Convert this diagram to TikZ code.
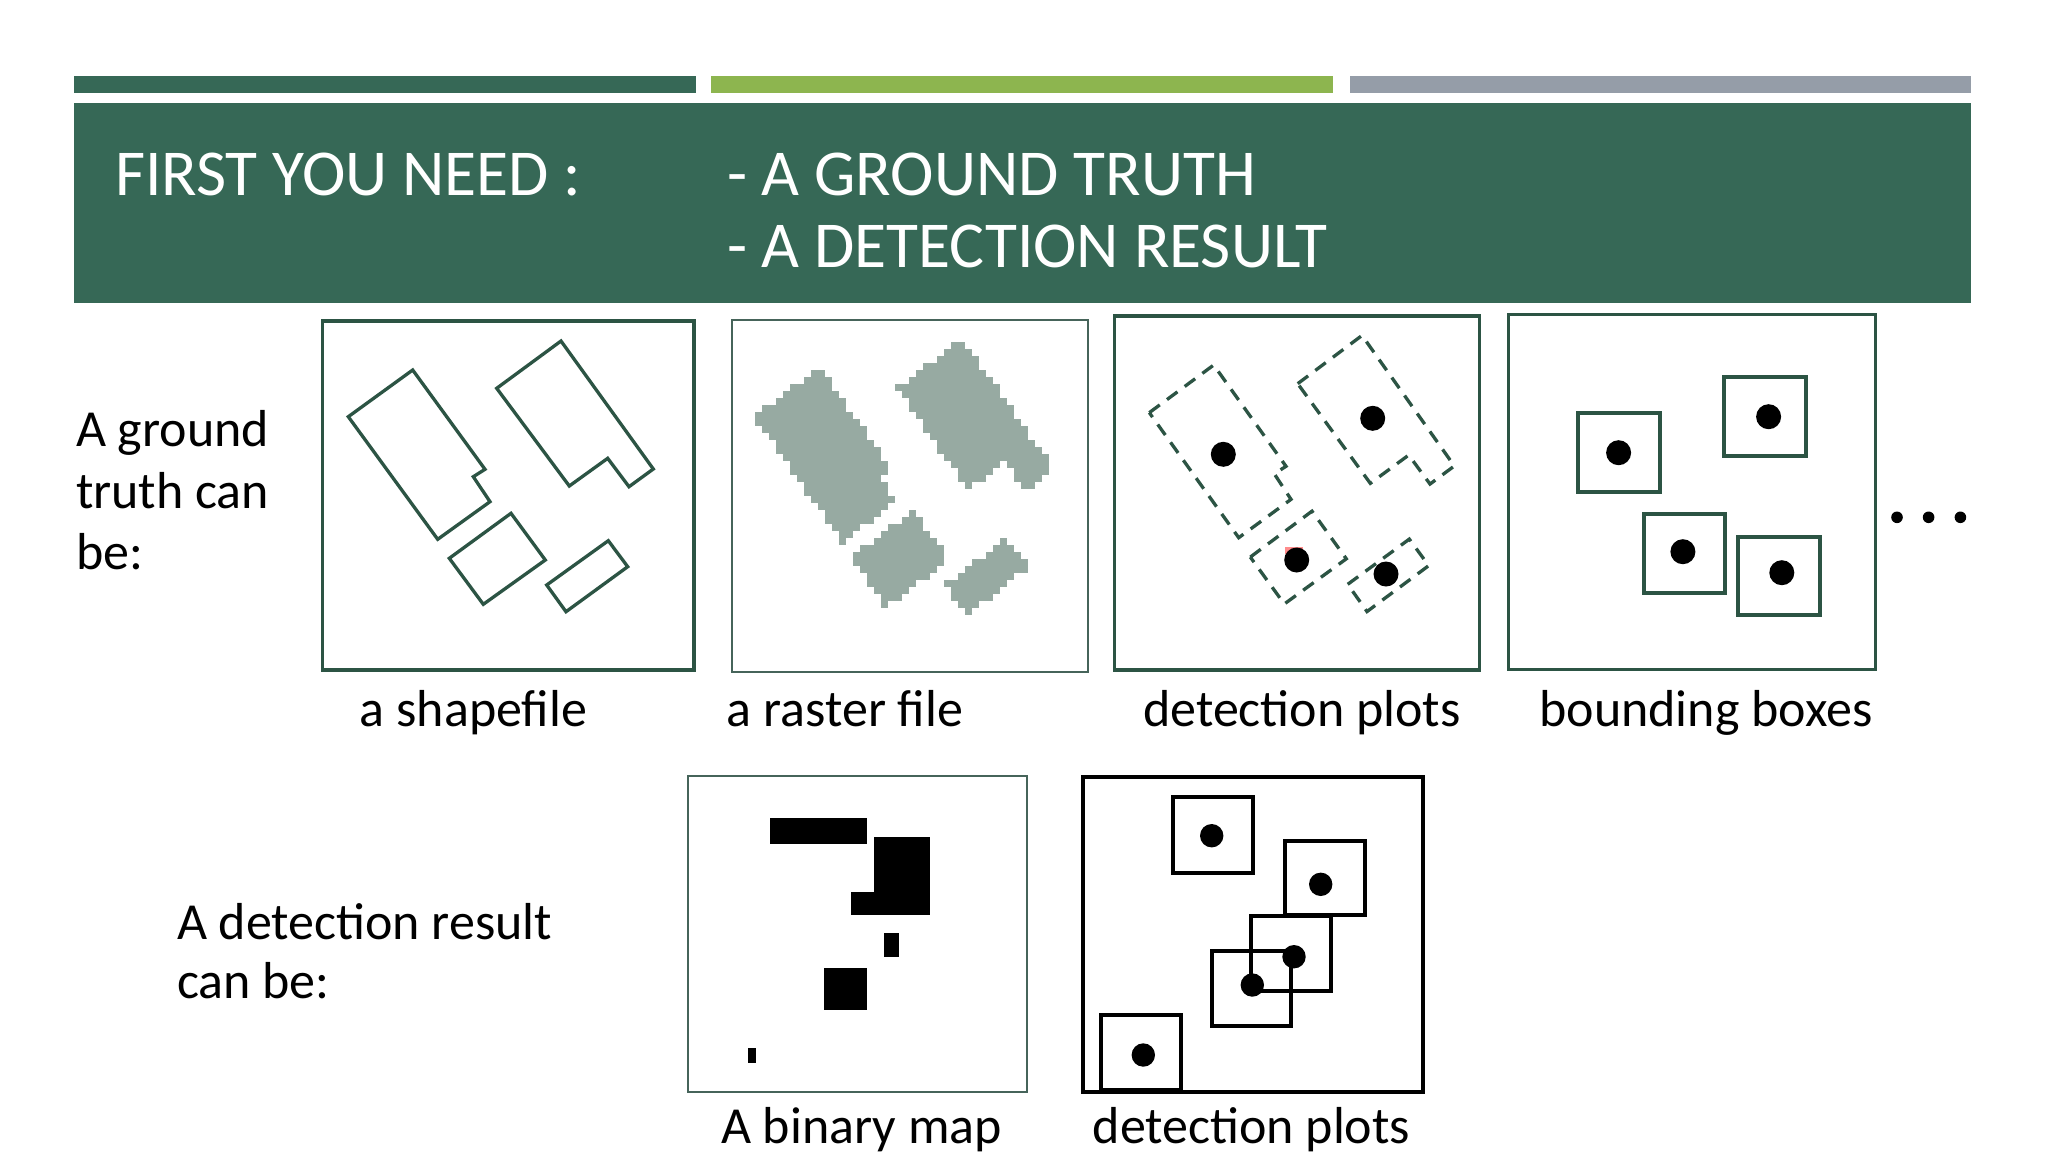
\documentclass[tikz,border=0pt]{standalone}
\usepackage{fontspec}
\setmainfont{Carlito}
\definecolor{banner}{RGB}{54,104,86}
\definecolor{lgreen}{RGB}{141,181,79}
\definecolor{bgray}{RGB}{149,157,168}
\definecolor{dkg}{RGB}{44,84,68}
\definecolor{thinc}{RGB}{70,100,90}
\definecolor{rastc}{RGB}{151,170,162}
\newcommand\buildings[1]{%
  \draw[#1] (348.3,416.7) -- (412.7,370) -- (485,469.3) -- (473.3,476.7) -- (490,501.7) -- (437.7,539.3) -- cycle;
  \draw[#1] (496.7,388.3) -- (561,341) -- (653.3,469) -- (629,486.7) -- (607.7,458.3) -- (569.3,486) -- cycle;
  \draw[#1] (449.3,558.3) -- (511,513.3) -- (545.3,560) -- (483.3,604.3) -- cycle;
  \draw[#1] (546.7,585) -- (608.3,540.7) -- (627.7,566.7) -- (566,611.7) -- cycle;
}
\begin{document}
\begin{tikzpicture}[x=1pt,y=-1pt,
  lbl/.style={inner sep=0pt, outer sep=0pt, font=\fontsize{52}{61}\selectfont, text=black},
  ttl/.style={inner sep=0pt, outer sep=0pt, font=\fontsize{65.5}{70}\selectfont, text=white},
  pnl/.style={draw=dkg, line width=3.3pt},
  thinpnl/.style={draw=thinc, line width=1.8pt},
  shp/.style={draw=dkg, line width=3.3pt, line join=miter},
  dsh/.style={draw=dkg, line width=3.3pt, dash pattern=on 13pt off 9pt},
  bbox/.style={draw=dkg, line width=4pt},
  kbox/.style={draw=black, line width=4pt},
  dot/.style={fill=black}]
\useasboundingbox[fill=white] (0,0) rectangle (2048,1152);
% top bars and banner
\fill[banner] (74,76) rectangle (696,93);
\fill[lgreen] (711,76) rectangle (1333,93);
\fill[bgray] (1350,76) rectangle (1971,93);
\fill[banner] (74,103) rectangle (1971,303);
\node[ttl, anchor=base west] (t1) at (115,195) {FIRST YOU NEED :};
\node[ttl, anchor=base west] (t2) at (727,195) {- A GROUND TRUTH};
\node[ttl, anchor=base west] (t3) at (727,267) {- A DETECTION RESULT};
% left labels
\node[lbl, anchor=base west] (gt1) at (76,446.7) {A ground};
\node[lbl, anchor=base west] (gt2) at (76,508.3) {truth can};
\node[lbl, anchor=base west] (gt3) at (76,569.3) {be:};
\node[lbl, anchor=base west] (dr1) at (177,939) {A detection result};
\node[lbl, anchor=base west] (dr2) at (177,998.3) {can be:};
% panel 1 shapefile
\draw[pnl] (322.3,321) rectangle (694,670);
\buildings{shp}
% panel 2 raster
\foreach \i in {0,...,48}{
  \foreach \j in {0,...,46}{
    \pgfmathsetmacro\X{737.5+7*\i}
    \pgfmathsetmacro\Y{324.2+7*\j}
    \pgfmathsetmacro\px{322+(\X-732)/0.96}
    \pgfmathsetmacro\U{\px*0.588+\Y*0.809}
    \pgfmathsetmacro\V{\px*0.809-\Y*0.588}
    \pgfmathtruncatemacro\ins{(\U>=539.4)*(\U<=696.1)*(\V>=34.25)*(\V<=119.25)*(1-(\U>667.4)*(\V>105.25))
      +(\U>=603.7)*(\U<=730.4)*(\V>=171)*(\V<=256)
      +(\U>=727.9)*(\U<=766.5)*(\V>=218.3)*(\V<=256)
      +(\U>=713.35)*(\U<=775.55)*(\V>=32.7)*(\V<=114.1)
      +(\U>=792.2)*(\U<=830.2)*(\V>=95.8)*(\V<=176.7)}
    \ifnum\ins>0 \fill[rastc] (\X-3.65,\Y-3.65) rectangle (\X+3.65,\Y+3.65);\fi
  }
}
\draw[thinpnl] (731.7,320) rectangle (1087.7,671.7);
% panel 3 detection plots (GT)
\draw[pnl] (1114.3,316) rectangle (1479.3,670);
\begin{scope}[shift={(801,-12.4)}, yscale=1.02]
  \buildings{dsh}
\end{scope}
\fill[red!45] (1285,547) rectangle (1303,554);
\fill[dot] (1223.3,454.3) circle[radius=12.5pt];
\fill[dot] (1372.7,418.3) circle[radius=12.5pt];
\fill[dot] (1296.7,560) circle[radius=12.5pt];
\fill[dot] (1386,574) circle[radius=12.5pt];
% panel 4 bounding boxes
\draw[pnl] (1508.6,314.3) rectangle (1875.7,669.3);
\draw[bbox] (1577.5,413.3) rectangle (1660,492.3);
\draw[bbox] (1724,376.7) rectangle (1806.4,456);
\draw[bbox] (1643.6,514) rectangle (1725,593.3);
\draw[bbox] (1738.2,536.7) rectangle (1820.4,615);
\fill[dot] (1618.6,452.7) circle[radius=12.5pt];
\fill[dot] (1768.6,416.7) circle[radius=12.5pt];
\fill[dot] (1682.9,551.7) circle[radius=12.5pt];
\fill[dot] (1781.8,572.7) circle[radius=12.5pt];
\fill[dot] (1897,517.3) circle[radius=5.8pt];
\fill[dot] (1928.6,517.3) circle[radius=5.8pt];
\fill[dot] (1960.4,517.3) circle[radius=5.8pt];
% panel labels
\node[lbl, anchor=base] (l1) at (473.5,726) {a shapefile};
\node[lbl, anchor=base] (l2) at (845,726) {a raster file};
\node[lbl, anchor=base] (l3) at (1302,726) {detection plots};
\node[lbl, anchor=base] (l4) at (1706,726) {bounding boxes};
% panel 5 binary map
\draw[thinpnl] (688.3,775.7) rectangle (1026.7,1091.7);
\fill[black] (770,818.3) rectangle (867.3,844.3);
\fill[black] (874.3,837.3) rectangle (930,915.3);
\fill[black] (850.7,892) rectangle (874.8,915.3);
\fill[black] (884.3,933.3) rectangle (899.3,957.3);
\fill[black] (824.3,968.3) rectangle (867.3,1010);
\fill[black] (747.7,1047.7) rectangle (756,1063.3);
% panel 6 detection plots (result)
\draw[kbox] (1083.3,776.7) rectangle (1422.7,1091.7);
\draw[kbox] (1172.7,796.7) rectangle (1252.7,872.7);
\draw[kbox] (1285.3,840.7) rectangle (1365.3,915.3);
\draw[kbox] (1250.7,916) rectangle (1330.7,990.7);
\draw[kbox] (1211.7,951) rectangle (1290.7,1026);
\draw[kbox] (1101,1015) rectangle (1180.7,1090);
\fill[dot] (1211.7,835.7) circle[radius=11.7pt];
\fill[dot] (1320.7,884.3) circle[radius=11.7pt];
\fill[dot] (1294,956.7) circle[radius=11.7pt];
\fill[dot] (1252.3,985) circle[radius=11.7pt];
\fill[dot] (1143.3,1055) circle[radius=11.7pt];
\node[lbl, anchor=base] (l5) at (861.5,1143.3) {A binary map};
\node[lbl, anchor=base] (l6) at (1251.5,1143.3) {detection plots};
\end{tikzpicture}
\end{document}
